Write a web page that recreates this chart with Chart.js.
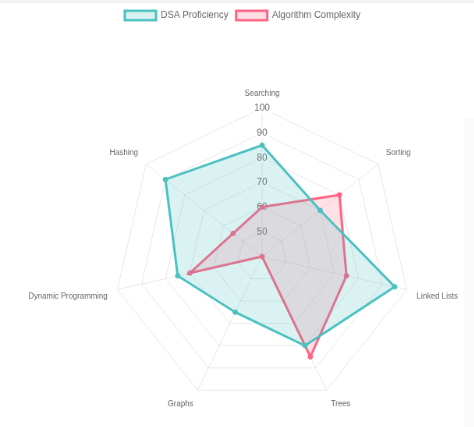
<!DOCTYPE html>
<html>
<head>
<meta charset="utf-8">
<title>DSA Radar</title>
<script src="https://cdn.jsdelivr.net/npm/chart.js"></script>
<style>
    html, body { margin: 0; padding: 0; background: #fff; }
    body { width: 474px; height: 427px; overflow: hidden; position: relative; }
    .top-band { position: absolute; left: 0; top: 0; width: 474px; height: 3px; background: #f1f1f1; z-index: 2; }
    .side-band { position: absolute; left: 464px; top: 119px; width: 10px; height: 308px; background: #fafafa; z-index: 2; }
    .chart-wrap { position: absolute; left: 0; top: 3px; width: 611px; height: 603px;
                  transform: scale(0.78); transform-origin: 0 0; }
</style>
</head>
<body>
<div class="top-band"></div>
<div class="side-band"></div>
<div class="chart-wrap"><canvas id="radarChart"></canvas></div>
<script>
// Topics on the radar axes (clockwise from the top)
const topics = ['Searching', 'Sorting', 'Linked Lists', 'Trees', 'Graphs', 'Dynamic Programming', 'Hashing'];
const proficiency = [85, 70, 95, 80, 65, 75, 90];
const complexity = [60, 80, 75, 85, 40, 70, 55];
const tickValues = [40, 50, 60, 70, 80, 90, 100];

document.addEventListener("DOMContentLoaded", function() {
    const ctx = document.getElementById('radarChart').getContext('2d');
    new Chart(ctx, {
        type: 'radar',
        data: {
            labels: topics,
            datasets: [{
                label: 'DSA Proficiency',
                data: proficiency,
                backgroundColor: 'rgba(75, 192, 192, 0.2)',
                borderColor: 'rgb(75, 192, 192)',
                pointBackgroundColor: 'rgb(75, 192, 192)'
            }, {
                label: 'Algorithm Complexity',
                data: complexity,
                backgroundColor: 'rgba(255, 99, 132, 0.2)',
                borderColor: 'rgb(255, 99, 132)',
                pointBackgroundColor: 'rgb(255, 99, 132)'
            }]
        },
        options: {
            responsive: true,
            maintainAspectRatio: false,
            animation: false,
            layout: { padding: { left: 11 } },
            scales: {
                r: {
                    min: tickValues[0],
                    max: tickValues[tickValues.length - 1],
                    ticks: { stepSize: 10 },
                    pointLabels: { font: { size: 10 } }
                }
            }
        }
    });
});
</script>
</body>
</html>
